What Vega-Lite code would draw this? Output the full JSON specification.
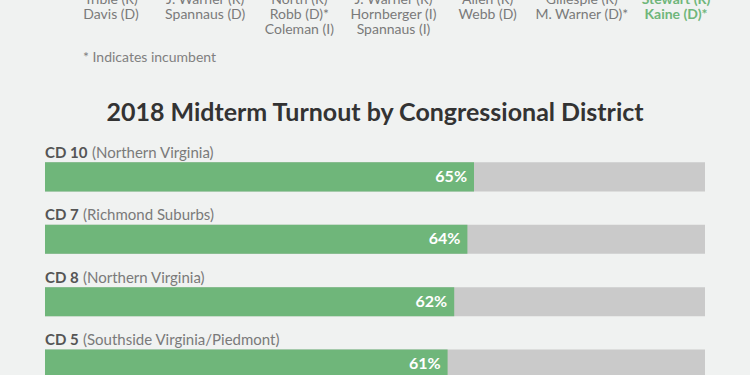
{
  "$schema": "https://vega.github.io/schema/vega-lite/v6.json",
  "autosize": {"type": "none"},
  "padding": {"top": 140, "left": 45, "right": 45, "bottom": 0},
  "width": 660,
  "height": 261,
  "background": "#f0f2f1",
  "config": {"view": {"stroke": null}, "text": {"font": "Lato"}},
  "layer": [
    {
      "data": {"values": [
        {"district": "CD 10", "region": "(Northern Virginia)", "turnout": 0.65},
        {"district": "CD 7", "region": "(Richmond Suburbs)", "turnout": 0.64},
        {"district": "CD 8", "region": "(Northern Virginia)", "turnout": 0.62},
        {"district": "CD 5", "region": "(Southside Virginia/Piedmont)", "turnout": 0.61}
      ]},
      "encoding": {
        "y": {"field": "district", "type": "nominal", "sort": null, "axis": null, "scale": {"paddingInner": 0.535, "paddingOuter": 0.358}}
      },
      "layer": [
        {"mark": {"type": "bar", "color": "#cacaca"}, "encoding": {"x": {"datum": 1, "type": "quantitative", "scale": {"domain": [0, 1]}, "axis": null}}},
        {"mark": {"type": "bar", "color": "#6fb67a"}, "encoding": {"x": {"field": "turnout", "type": "quantitative", "scale": {"domain": [0, 1]}, "axis": null}}},
        {"mark": {"type": "text", "align": "right", "dx": -7, "color": "#ffffff", "fontSize": 16, "fontWeight": "bold"}, "encoding": {"x": {"field": "turnout", "type": "quantitative"}, "text": {"field": "turnout", "type": "quantitative", "format": ".0%"}}},
        {"mark": {"type": "text", "align": "left", "dy": -24, "color": "#555555", "fontSize": 15, "fontWeight": "bold"}, "encoding": {"x": {"datum": 0, "type": "quantitative"}, "text": {"field": "district"}}},
        {"mark": {"type": "text", "align": "left", "dy": -24, "dx": {"expr": "38 + 9 * (length(datum.district) - 4)"}, "color": "#7a7a7a", "fontSize": 15}, "encoding": {"x": {"datum": 0, "type": "quantitative"}, "text": {"field": "region"}}},
        {
          "data": {"values": [{"title": "2018 Midterm Turnout by Congressional District"}]},
          "mark": {"type": "text", "align": "center", "dy": -64, "color": "#333333", "fontSize": 25, "fontWeight": "bold"},
          "encoding": {"x": {"datum": 0.5, "type": "quantitative"}, "y": {"datum": "CD 10", "type": "nominal"}, "text": {"field": "title"}}
        }
      ]
    },
    {
      "layer": [
        {
          "data": {"values": [
            {"year": "1982", "line": 1, "name": "Trible (R)"},
            {"year": "1982", "line": 2, "name": "Davis (D)"},
            {"year": "1990", "line": 1, "name": "J. Warner (R)"},
            {"year": "1990", "line": 2, "name": "Spannaus (D)"},
            {"year": "1994", "line": 1, "name": "North (R)"},
            {"year": "1994", "line": 2, "name": "Robb (D)*"},
            {"year": "1994", "line": 3, "name": "Coleman (I)"},
            {"year": "2002", "line": 1, "name": "J. Warner (R)"},
            {"year": "2002", "line": 2, "name": "Hornberger (I)"},
            {"year": "2002", "line": 3, "name": "Spannaus (I)"},
            {"year": "2006", "line": 1, "name": "Allen (R)"},
            {"year": "2006", "line": 2, "name": "Webb (D)"},
            {"year": "2014", "line": 1, "name": "Gillespie (R)"},
            {"year": "2014", "line": 2, "name": "M. Warner (D)*"},
            {"year": "2018", "line": 1, "name": "Stewart (R)"},
            {"year": "2018", "line": 2, "name": "Kaine (D)*"}
          ]},
          "encoding": {
            "x": {"field": "year", "type": "ordinal", "axis": null, "scale": {"type": "point", "padding": 0, "range": [66, 631]}},
            "y": {"field": "line", "type": "ordinal", "axis": null, "scale": {"type": "point", "padding": 0, "range": [-140, -110]}},
            "text": {"field": "name"}
          },
          "layer": [
            {"transform": [{"filter": "datum.year !== '2018'"}], "mark": {"type": "text", "align": "center", "color": "#7a7a7a", "fontSize": 14}},
            {"transform": [{"filter": "datum.year === '2018'"}], "mark": {"type": "text", "align": "center", "color": "#6fb67a", "fontSize": 14, "fontWeight": "bold"}}
          ]
        },
        {
          "data": {"values": [{"note": "* Indicates incumbent"}]},
          "mark": {"type": "text", "align": "left", "dx": -28, "dy": 28, "color": "#808080", "fontSize": 14},
          "encoding": {
            "x": {"datum": "1982", "type": "ordinal"},
            "y": {"datum": 3, "type": "ordinal"},
            "text": {"field": "note"}
          }
        }
      ]
    }
  ],
  "resolve": {"scale": {"x": "independent", "y": "independent"}}
}
